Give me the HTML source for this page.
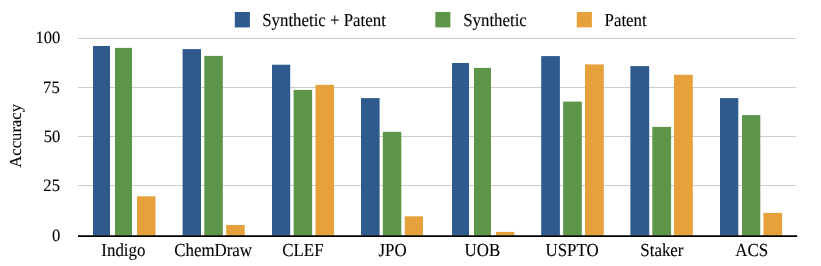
<!DOCTYPE html>
<html><head><meta charset="utf-8"><title>Accuracy chart</title>
<style>
html,body{margin:0;padding:0;background:#fff;}
body{width:821px;height:266px;overflow:hidden;}
svg{display:block;}
text{font-family:"Liberation Serif","Times New Roman",serif;fill:#000;stroke:#000;stroke-width:0.1px;text-rendering:geometricPrecision;}
</style></head><body>
<svg width="821" height="266" viewBox="0 0 821 266">
<rect width="821" height="266" fill="#fff"/>

<rect x="78" y="38" width="718" height="1" fill="#cccccc"/>
<rect x="78" y="87" width="718" height="1" fill="#cccccc"/>
<rect x="78" y="136" width="718" height="1" fill="#cccccc"/>
<rect x="78" y="185" width="718" height="1" fill="#cccccc"/>
<rect x="93" y="46.0" width="17.00" height="189.50" fill="#2f5a8e"/>
<rect x="115" y="47.9" width="17.00" height="187.60" fill="#5e9649"/>
<rect x="137" y="196.3" width="18.50" height="39.20" fill="#e6a03c"/>
<rect x="182.6" y="49.1" width="18.40" height="186.40" fill="#2f5a8e"/>
<rect x="204.3" y="55.9" width="18.50" height="179.60" fill="#5e9649"/>
<rect x="226.2" y="225.0" width="18.50" height="10.50" fill="#e6a03c"/>
<rect x="272" y="64.7" width="18.20" height="170.80" fill="#2f5a8e"/>
<rect x="293.6" y="89.9" width="18.50" height="145.60" fill="#5e9649"/>
<rect x="315.5" y="84.8" width="18.50" height="150.70" fill="#e6a03c"/>
<rect x="361" y="98.1" width="18.60" height="137.40" fill="#2f5a8e"/>
<rect x="382.8" y="131.8" width="18.50" height="103.70" fill="#5e9649"/>
<rect x="404.8" y="216.3" width="18.20" height="19.20" fill="#e6a03c"/>
<rect x="452" y="63.0" width="17.00" height="172.50" fill="#2f5a8e"/>
<rect x="474" y="67.9" width="17.00" height="167.60" fill="#5e9649"/>
<rect x="496" y="231.9" width="18.30" height="3.60" fill="#e6a03c"/>
<rect x="541.2" y="56.1" width="18.70" height="179.40" fill="#2f5a8e"/>
<rect x="563.1" y="101.6" width="18.70" height="133.90" fill="#5e9649"/>
<rect x="585" y="64.4" width="18.80" height="171.10" fill="#e6a03c"/>
<rect x="630.4" y="66.1" width="18.80" height="169.40" fill="#2f5a8e"/>
<rect x="652.3" y="126.9" width="18.80" height="108.60" fill="#5e9649"/>
<rect x="674" y="74.8" width="18.80" height="160.70" fill="#e6a03c"/>
<rect x="720.0" y="98.1" width="18.30" height="137.40" fill="#2f5a8e"/>
<rect x="742.0" y="115.1" width="18.30" height="120.40" fill="#5e9649"/>
<rect x="763.4" y="212.9" width="18.70" height="22.60" fill="#e6a03c"/>
<rect x="78" y="235.25" width="719.2" height="1.75" fill="#000"/>
<text transform="translate(60.30,42.50) scale(1,1.045)" font-size="16.6" text-anchor="end">100</text>
<text transform="translate(59.70,92.70) scale(1,1.045)" font-size="16.6" text-anchor="end">75</text>
<text transform="translate(60.30,141.70) scale(1,1.045)" font-size="16.6" text-anchor="end">50</text>
<text transform="translate(59.95,191.30) scale(1,1.045)" font-size="16.6" text-anchor="end">25</text>
<text transform="translate(60.30,241.10) scale(1,1.045)" font-size="16.6" text-anchor="end">0</text>
<text transform="translate(123.38,256.15) scale(1,1.085)" font-size="16.9" text-anchor="middle">Indigo</text>
<text transform="translate(213.12,256.15) scale(1,1.085)" font-size="16.9" text-anchor="middle">ChemDraw</text>
<text transform="translate(302.88,256.15) scale(1,1.085)" font-size="16.9" text-anchor="middle">CLEF</text>
<text transform="translate(392.62,256.15) scale(1,1.085)" font-size="16.9" text-anchor="middle">JPO</text>
<text transform="translate(482.38,256.15) scale(1,1.085)" font-size="16.9" text-anchor="middle">UOB</text>
<text transform="translate(572.12,256.15) scale(1,1.085)" font-size="16.9" text-anchor="middle">USPTO</text>
<text transform="translate(661.88,256.15) scale(1,1.085)" font-size="16.9" text-anchor="middle">Staker</text>
<text transform="translate(751.62,256.15) scale(1,1.085)" font-size="16.9" text-anchor="middle">ACS</text>
<text transform="translate(20.6,135.85) rotate(-90)" font-size="16.65" text-anchor="middle">Accuracy</text>
<rect x="234.8" y="12.0" width="15.1" height="15.4" fill="#2f5a8e"/>
<text transform="translate(262.20,25.50) scale(1,1.085)" font-size="16.85" text-anchor="start">Synthetic + Patent</text>
<rect x="435.3" y="12.0" width="15.1" height="15.4" fill="#5e9649"/>
<text transform="translate(463.20,25.50) scale(1,1.085)" font-size="16.85" text-anchor="start">Synthetic</text>
<rect x="576.8" y="12.0" width="15.1" height="15.4" fill="#e6a03c"/>
<text transform="translate(604.60,25.50) scale(1,1.085)" font-size="16.85" text-anchor="start">Patent</text>
</svg></body></html>
